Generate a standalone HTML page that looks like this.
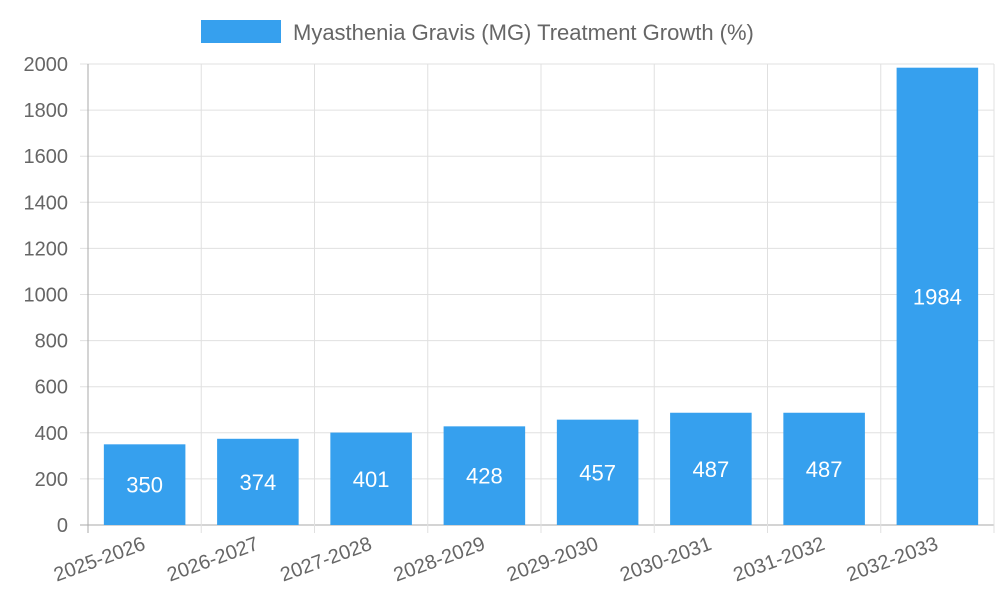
<!DOCTYPE html>
<html><head><meta charset="utf-8"><style>
html,body{margin:0;padding:0;background:#fff;}
svg{display:block;font-family:"Liberation Sans",sans-serif;}
</style></head><body>
<svg id="chart" width="1000" height="600">
<g id="legend">
<rect x="201" y="20" width="80" height="23" fill="#36a0ee"></rect>
<text x="293" y="40" font-size="22" fill="#666">Myasthenia Gravis (MG) Treatment Growth (%)</text>
</g>
<g id="grid"></g><g id="bars"></g><g id="axes"></g>
</svg>
<script>
const categories=["2025-2026","2026-2027","2027-2028","2028-2029","2029-2030","2030-2031","2031-2032","2032-2033"];
const values=[350,374,401,428,457,487,487,1984];
const yTicks=[0,200,400,600,800,1000,1200,1400,1600,1800,2000];
const NS="http://www.w3.org/2000/svg";
const L=88,R=994,T=64,B=525,yMax=2000;
const bw=(R-L)/categories.length;
const y=v=>B-(v/yMax)*(B-T);
const x=i=>L+i*bw;
function mk(tag,attrs,parent){const e=document.createElementNS(NS,tag);for(const k in attrs)e.setAttribute(k,attrs[k]);parent.appendChild(e);return e;}
const grid=document.getElementById('grid'),bars=document.getElementById('bars'),axes=document.getElementById('axes');
yTicks.forEach(t=>{
 const l=mk('line',{x1:L-8,x2:R,y1:y(t),y2:y(t),stroke:t===0?'#aaa':'#e0e0e0','stroke-width':1},grid);
 
 
 const tx=mk('text',{x:L-20,y:y(t)+7,'font-size':20,fill:'#666','text-anchor':'end'},axes);
 tx.textContent=t;
 
 
});
for(let i=0;i<=categories.length;i++){
 const l=mk('line',{x1:x(i),x2:x(i),y1:T,y2:B+8,stroke:i===0?'#aaa':'#e0e0e0','stroke-width':1},grid);
 
 
}
categories.forEach((c,i)=>{
 const cx=x(i)+bw/2,w=bw*0.72;
 const r=mk('rect',{x:cx-w/2,y:y(values[i]),width:w,height:B-y(values[i]),fill:'#36a0ee'},bars);
 
 
 const vt=mk('text',{x:cx,y:(y(values[i])+B)/2+8,'font-size':22,fill:'#fff','text-anchor':'middle'},bars);
 vt.textContent=values[i];
 
 
 const lt=mk('text',{x:0,y:0,'font-size':20,fill:'#666','text-anchor':'end',transform:`translate(${cx+2},${B+24}) rotate(-20)`},axes);
 lt.textContent=c;
 
 
});
</script>
</body></html>
